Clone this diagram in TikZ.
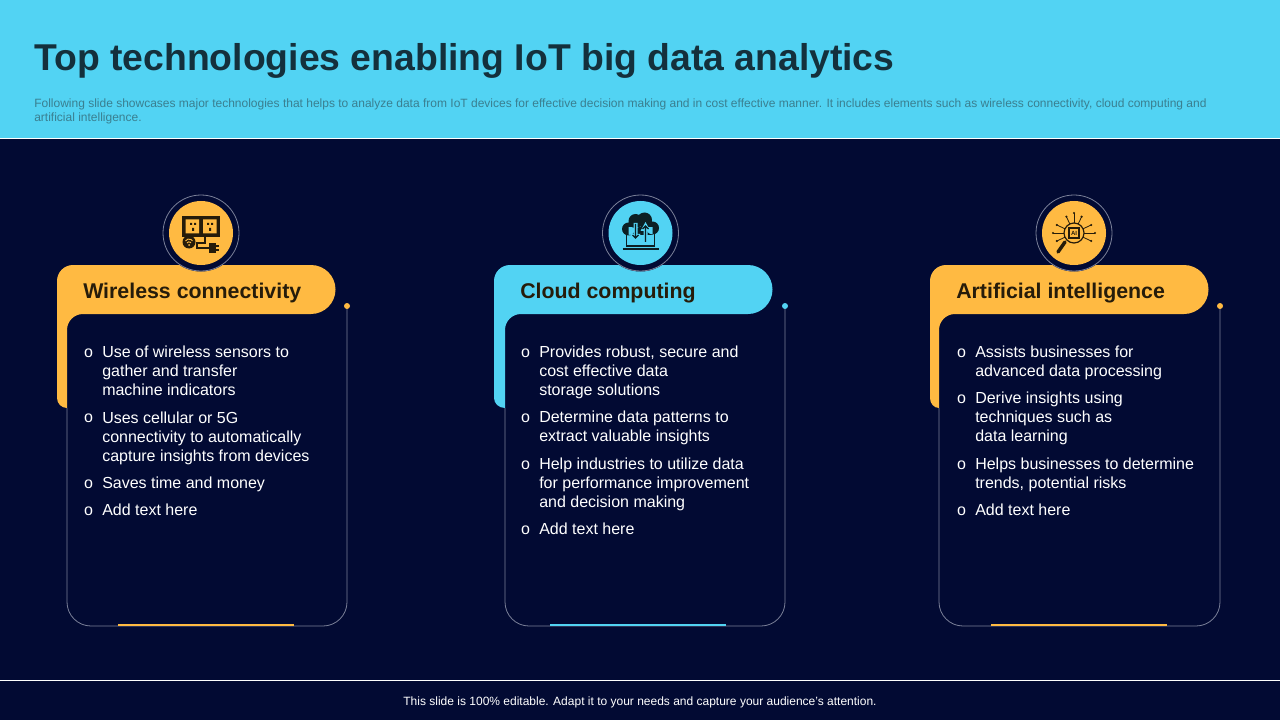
\documentclass[tikz,border=0pt]{standalone}
\usepackage{fontspec}
\setmainfont{Liberation Sans}
\definecolor{navy}{HTML}{020A33}
\definecolor{sky}{HTML}{52D3F3}
\definecolor{amber}{HTML}{FFBA42}
\definecolor{ink}{HTML}{14303C}
\definecolor{note}{HTML}{3A7F90}
\definecolor{rim}{HTML}{7A8098}
\tikzset{
  headtext/.style={anchor=base west,inner sep=0pt,font=\fontsize{16}{19}\selectfont\bfseries,text=black!85!amber},
  bodytext/.style={anchor=base west,align=left,inner sep=0pt,yshift=0.6pt,text=white,font=\fontsize{12}{14.25}\selectfont},
  bulletmark/.style={anchor=base,inner sep=0pt,yshift=0.6pt,text=white,font=\fontsize{12}{14.25}\selectfont},
  rimline/.style={draw=rim,line width=0.6pt},
  glyph/.style={draw=black!85!amber,line width=0.9pt},
}
\begin{document}
\begin{tikzpicture}[x=0.75pt,y=-0.75pt]
  \useasboundingbox (0,0) rectangle (1280,720);
  \fill[navy] (0,0) rectangle (1280,720);
  \fill[sky] (0,0) rectangle (1280,138);
  \draw[white,line width=0.8pt] (0,138.5) -- (1280,138.5);
  \draw[white,line width=0.8pt] (0,680.5) -- (1280,680.5);

  \node[anchor=base west,inner sep=0pt,text=ink,font=\fontsize{28}{32}\selectfont\bfseries] (title) at (34,71) {Top technologies enabling IoT big data analytics};
  \node[anchor=base west,inner sep=0pt,align=left,text=note,font=\fontsize{9}{10.6}\selectfont] (intro) at (34,121.5) {Following slide showcases major technologies that helps to analyze data from IoT devices for effective decision making and in cost effective manner. It includes elements such as wireless connectivity, cloud computing and\\artificial intelligence.};
  \node[anchor=base,inner sep=0pt,text=white,font=\fontsize{9}{11}\selectfont] (footer) at (640,705) {This slide is 100\% editable. Adapt it to your needs and capture your audience's attention.};

  % cards: left edge, outline left, outline right, bar start, colour
  \foreach \hx/\lx/\rx/\bx/\col in {57/67/347/118/amber,494/505/785/550/sky,930/939/1220/991/amber}{
    \pgfmathsetmacro{\tipr}{\lx-\hx}
    \fill[\col] (\hx,398) -- (\hx,281) arc[start angle=180,end angle=270,radius=16]
      -- ({\hx+254},265) arc[start angle=-90,end angle=90,radius=24.5]
      -- ({\lx+16},314) arc[start angle=-90,end angle=-180,radius=16] -- (\lx,408)
      arc[start angle=90,end angle=180,x radius=\tipr,y radius=10] -- cycle;
    \draw[rimline] (\rx,306) -- (\rx,602) arc[start angle=0,end angle=90,radius=24]
      -- ({\lx+24},626) arc[start angle=90,end angle=180,radius=24] -- (\lx,408);
    \fill[\col] (\rx,306) circle (3);
    \draw[\col,line width=2.2pt] (\bx,625) -- ({\bx+176},625);
  }

  \foreach \cx/\col in {201/amber,640.5/sky,1074/amber}{
    \fill[navy] (\cx,233) circle (38.5);
    \draw[rimline] (\cx,233) circle (38);
    \fill[\col] (\cx,233) circle (32);
  }

  % wireless icon
  \begin{scope}[shift={(201,233)}]
    \draw[glyph,fill=black!85!amber] (-18,-16) rectangle (18,3);
    \fill[amber] (-15.5,-13.5) rectangle (-2,0.5) (2,-13.5) rectangle (15.5,0.5);
    \fill[black!85!amber] (-11,-10) rectangle (-9,-8) (-7,-10) rectangle (-5,-8) (-9,-5) rectangle (-7,-2)
      (6,-10) rectangle (8,-8) (10,-10) rectangle (12,-8) (8,-5) rectangle (10,-2);
    \fill[black!85!amber] (-12,9) circle (6.5);
    \draw[amber,line width=0.7pt] (-15.5,8) arc[start angle=-150,end angle=-30,radius=4]
      (-14,10) arc[start angle=-150,end angle=-30,radius=2.3];
    \fill[amber] (-12,12) circle (1);
    \draw[glyph] (4,3) -- (4,10) -- (-4,10) -- (-4,15) -- (8,15);
    \fill[black!85!amber] (8,10.5) rectangle (15,19.5);
    \draw[glyph] (15,13) -- (18,13) (15,17) -- (18,17);
  \end{scope}

  % cloud icon
  \begin{scope}[shift={(640.5,233)}]
    \fill[black!85!sky] (-12,-4) circle (6.5) (-5,-12) circle (7) (4,-13) circle (7.5) (12,-5) circle (6.5) (-12,-6) rectangle (12,2);
    \draw[black!85!sky,line width=1pt] (-14,-1) -- (-14,13) -- (14,13) -- (14,-1);
    \draw[black!85!sky,line width=1.6pt] (-18,16) -- (18,16);
    \fill[sky] (-7,-10) rectangle (-3,3) (3,-4) rectangle (7,8);
    \fill[sky] (-10,1) -- (0,1) -- (-5,8) -- cycle (0,-2) -- (10,-2) -- (5,-11) -- cycle;
    \draw[black!85!sky,line width=1pt] (-5,-9) -- (-5,5) (-8,2) -- (-5,5) -- (-2,2)
      (5,9) -- (5,-7) (2,-4) -- (5,-7) -- (8,-4);
  \end{scope}

  % ai icon
  \begin{scope}[shift={(1074,233)}]
    \draw[glyph,fill=amber] (0,0) circle (10);
    \draw[glyph] (-5,-5) rectangle (5,5);
    \node[inner sep=0pt,text=black!85!amber,font=\fontsize{4.5}{5}\selectfont\bfseries] (chip) at (0,0) {AI};
    \foreach \a/\r in {0/21,25/19,-25/19,180/21,155/19,205/19,90/20,65/18,115/18}{
      \draw[glyph,line width=0.6pt] (-\a:10) -- (-\a:\r);
      \fill[black!85!amber] (-\a:\r) circle (1.2);
    }
    \draw[black!85!amber,line width=2.6pt,line cap=round] (-9,9) -- (-16,19);
  \end{scope}

  \node[headtext] (head1) at (83,298) {Wireless connectivity};
  \node[headtext] (head2) at (520,298) {Cloud computing};
  \node[headtext] (head3) at (956,298) {Artificial intelligence};

  % wireless column
  \node[bulletmark] (m11) at (88.5,358) {o};
  \node[bodytext] (t11) at (102,396) {Use of wireless sensors to\\gather and transfer\\machine indicators};
  \node[bulletmark] (m12) at (88.5,423) {o};
  \node[bodytext] (t12) at (102,462) {Uses cellular or 5G\\connectivity to automatically\\capture insights from devices};
  \node[bulletmark] (m13) at (88.5,489) {o};
  \node[bodytext] (t13) at (102,489) {Saves time and money};
  \node[bulletmark] (m14) at (88.5,516) {o};
  \node[bodytext] (t14) at (102,516) {Add text here};

  % cloud column
  \node[bulletmark] (m21) at (525.5,358) {o};
  \node[bodytext] (t21) at (539,396) {Provides robust, secure and\\cost effective data\\storage solutions};
  \node[bulletmark] (m22) at (525.5,423) {o};
  \node[bodytext] (t22) at (539,442) {Determine data patterns to\\extract valuable insights};
  \node[bulletmark] (m23) at (525.5,470) {o};
  \node[bodytext] (t23) at (539,508) {Help industries to utilize data\\for performance improvement\\and decision making};
  \node[bulletmark] (m24) at (525.5,535) {o};
  \node[bodytext] (t24) at (539,535) {Add text here};

  % ai column
  \node[bulletmark] (m31) at (961.5,358) {o};
  \node[bodytext] (t31) at (975,377) {Assists businesses for\\advanced data processing};
  \node[bulletmark] (m32) at (961.5,404) {o};
  \node[bodytext] (t32) at (975,442) {Derive insights using\\techniques such as\\data learning};
  \node[bulletmark] (m33) at (961.5,470) {o};
  \node[bodytext] (t33) at (975,489) {Helps businesses to determine\\trends, potential risks};
  \node[bulletmark] (m34) at (961.5,516) {o};
  \node[bodytext] (t34) at (975,516) {Add text here};
\end{tikzpicture}
\end{document}
